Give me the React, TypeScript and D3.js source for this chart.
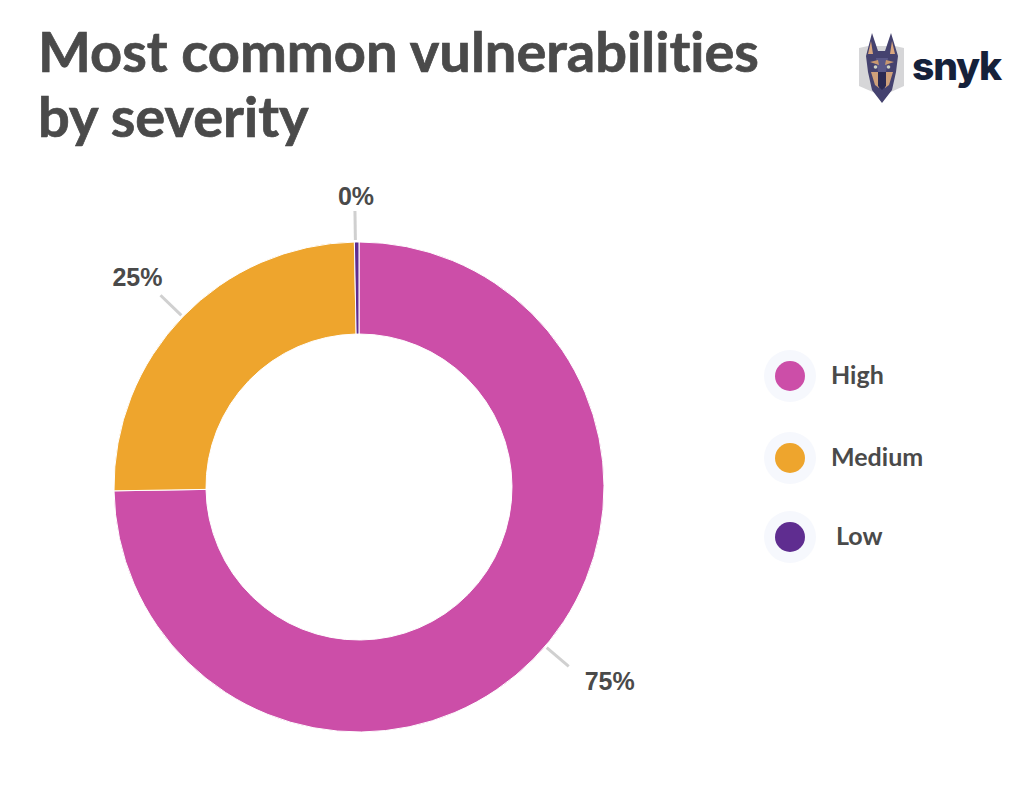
import React from "react";
import * as d3 from "d3";

const severities = ["High", "Medium", "Low"];
const shares = [74.75, 24.95, 0.3];
const shareLabels = ["75%", "25%", "0%"];
const colors = ["#cc4ea8", "#eea52d", "#5f2d90"];
const titleLines = ["Most common vulnerabilities", "by severity"];

const cx = 359;
const cy = 487;
const outerR = 245;
const innerR = 153;
const textColor = "#4a4a4a";
const headFont = "Lato, 'Noto Sans', sans-serif";

// leader lines: angle shift from slice middle (deg), label spot relative to line end
const leaderShift = [-4, 0, -0.3];
const labelOffset = [[41, 24], [-23, -9], [1, -6]];
const legendY = [376, 458, 537];
const legendTextX = [831, 831, 836];

const SnykLogo = () => (
  <g>
    <path d="M859 48 L868 46 L895 46 L904 48 L904 86 L882 96 L859 86 Z" fill="#d6d6d8" />
    <path
      d="M872 33 L878 51 L885 51 L891 33 L898 56 L896 72 L892 90 L882 103 L872 90 L868 72 L866 56 Z"
      fill="#45426f"
    />
    <path d="M871 41 L868 54 L873 54 Z M892 41 L895 54 L890 54 Z" fill="#d9a67e" />
    <path d="M876 58 L888 58 L886 72 L878 72 Z" fill="#5a5888" />
    <path d="M870 62 L879 65 L878 60 Z M894 62 L885 65 L886 60 Z" fill="#c9986f" />
    <path d="M871 72 L878 72 L879 88 L875 85 Z M893 72 L886 72 L885 88 L889 85 Z" fill="#cfa07a" />
    <path d="M878 72 L886 72 L886 86 L882 90 L878 86 Z" fill="#2c2a52" />
    <circle cx={875.5} cy={67} r={1.8} fill="#cfd3c4" />
    <circle cx={888.5} cy={67} r={1.8} fill="#cfd3c4" />
    <text x={912} y={80} fontFamily="Inter, Roboto, sans-serif" fontWeight={800} fontSize={39} letterSpacing={-1.2} fill="#15213a">
      snyk
    </text>
  </g>
);

export default function App() {
  const pie = d3.pie<number>().sort(null)(shares);
  const arc = d3.arc<d3.PieArcDatum<number>>().innerRadius(innerR).outerRadius(outerR);

  const polar = (deg: number, r: number) => {
    const a = (deg * Math.PI) / 180;
    return [cx + Math.sin(a) * r, cy - Math.cos(a) * r];
  };

  return (
    <svg width={1032} height={799} style={{ position: "absolute", left: 0, top: 0 }}>
      <rect width={1032} height={799} fill="#fff" />
      {titleLines.map((line, i) => (
        <text
          key={line}
          x={38}
          y={72 + i * 65}
          fontFamily={headFont}
          fontWeight={700}
          fontSize={56}
          fill={textColor}
          stroke={textColor}
          strokeWidth={0.7}
          style={{ fontVariantLigatures: "none" }}
        >
          {line}
        </text>
      ))}
      <SnykLogo />
      <g transform={`translate(${cx},${cy})`}>
        {pie.map((d, i) => (
          <path key={severities[i]} d={arc(d) ?? ""} fill={colors[i]} stroke="#fff" strokeWidth={1} />
        ))}
      </g>
      {pie.map((d, i) => {
        const deg = (((d.startAngle + d.endAngle) / 2) * 180) / Math.PI + leaderShift[i];
        const [x1, y1] = polar(deg, outerR + 2);
        const [x2, y2] = polar(deg, outerR + 31);
        return (
          <g key={shareLabels[i]}>
            <line x1={x1} y1={y1} x2={x2} y2={y2} stroke="#d0d0d0" strokeWidth={3} />
            <text
              x={x2 + labelOffset[i][0]}
              y={y2 + labelOffset[i][1]}
              textAnchor="middle"
              fontFamily="'Liberation Sans', Arial, sans-serif"
              fontWeight={700}
              fontSize={25}
              fill={textColor}
            >
              {shareLabels[i]}
            </text>
          </g>
        );
      })}
      {severities.map((s, i) => (
        <g key={s}>
          <circle cx={790} cy={legendY[i]} r={26} fill="#f6f8fd" />
          <circle cx={790} cy={legendY[i]} r={15} fill={colors[i]} />
          <text x={legendTextX[i]} y={legendY[i] + 8} fontFamily={headFont} fontWeight={700} fontSize={25} fill={textColor}>
            {s}
          </text>
        </g>
      ))}
    </svg>
  );
}
